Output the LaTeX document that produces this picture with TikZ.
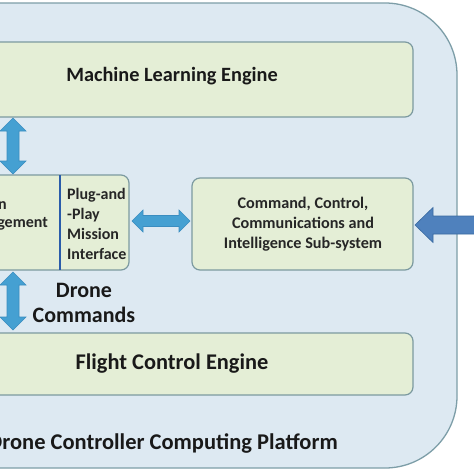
\documentclass[tikz,border=0pt]{standalone}
\usepackage{fontspec}
\setmainfont{Carlito}
\definecolor{outerfill}{HTML}{DDE9F2}
\definecolor{outerline}{HTML}{7D9EA8}
\definecolor{boxfill}{HTML}{E4EED6}
\definecolor{boxline}{HTML}{7C9AA0}
\definecolor{arrlight}{HTML}{45A0D2}
\definecolor{arrlightline}{HTML}{3A8DC0}
\definecolor{arrdark}{HTML}{4F81BD}
\definecolor{arrdarkline}{HTML}{3A6AA0}
\definecolor{divblue}{HTML}{2A5CAA}
\begin{document}
\begin{tikzpicture}[x=1pt,y=-1pt,
  panel/.style={fill=boxfill,draw=boxline,line width=1.2pt,rounded corners=8pt},
  bigtxt/.style={font=\bfseries\fontsize{20.3}{24}\selectfont,text=black!90,inner sep=0pt},
  smalltxt/.style={font=\bfseries\fontsize{16}{20}\selectfont,text=black!85,inner sep=0pt},
  lightarrow/.style={fill=arrlight,draw=arrlightline,line width=0.6pt,line join=miter},
  darkarrow/.style={fill=arrdark,draw=arrdarkline,line width=0.6pt,line join=miter}]
\useasboundingbox (0,0) rectangle (474,474);
\fill[white] (0,0) rectangle (474,474);
\begin{scope}
\clip (0,0) rectangle (474,474);
% outer platform
\draw[fill=outerfill,draw=outerline,line width=1.3pt,rounded corners=72pt] (-120,3) rectangle (457,468);
% panels
\draw[panel] (-50,42) rectangle (413,117);
\coordinate (mlc) at (172,76);
\node[bigtxt] (ml) at (mlc) {Machine Learning Engine};
\draw[panel] (-50,175) rectangle (129,270);
\coordinate (mmtop) at (60,175);
\coordinate (mmbot) at (60,270);
\draw[divblue,line width=2.5pt] (mmtop) -- (mmbot);
\node[smalltxt,anchor=east] (mm1) at (7,204) {Mission};
\node[smalltxt,anchor=east] (mm2) at (48,224) {Management};
\node[smalltxt,align=left,anchor=west] (pp) at (67,224) {Plug-and\\-Play\\Mission\\Interface};
\draw[panel] (192,178) rectangle (413,270);
\node[smalltxt,align=center,font=\bfseries\fontsize{16.2}{20}\selectfont] (c3i) at (303,224) {Command, Control,\\Communications and\\Intelligence Sub-system};
\draw[panel] (-50,333) rectangle (413,395);
\node[bigtxt,font=\bfseries\fontsize{22.4}{26}\selectfont] (fc) at (172,364) {Flight Control Engine};
\node[bigtxt,align=center,font=\bfseries\fontsize{22}{25}\selectfont] (dc) at (84,303) {Drone\\Commands};
\node[bigtxt,anchor=east,font=\bfseries\fontsize{22.5}{26}\selectfont] (plat) at (338,443) {Drone Controller Computing Platform};
% vertical double arrows
\draw[lightarrow] (13,118) -- (26,131) -- (19,131) -- (19,161) -- (26,161) -- (13,174) -- (0,161) -- (7,161) -- (7,131) -- (0,131) -- cycle;
\draw[lightarrow] (13,272) -- (26,285) -- (19,285) -- (19,317) -- (26,317) -- (13,330) -- (0,317) -- (7,317) -- (7,285) -- (0,285) -- cycle;
% horizontal double arrow
\draw[lightarrow] (132,221) -- (143,210) -- (143,215.5) -- (179,215.5) -- (179,210) -- (190,221) -- (179,232) -- (179,226.5) -- (143,226.5) -- (143,232) -- cycle;
% incoming arrow
\draw[darkarrow] (415,225) -- (433,207.5) -- (433,216) -- (480,216) -- (480,234) -- (433,234) -- (433,242.5) -- cycle;
\end{scope}
\end{tikzpicture}
\end{document}
